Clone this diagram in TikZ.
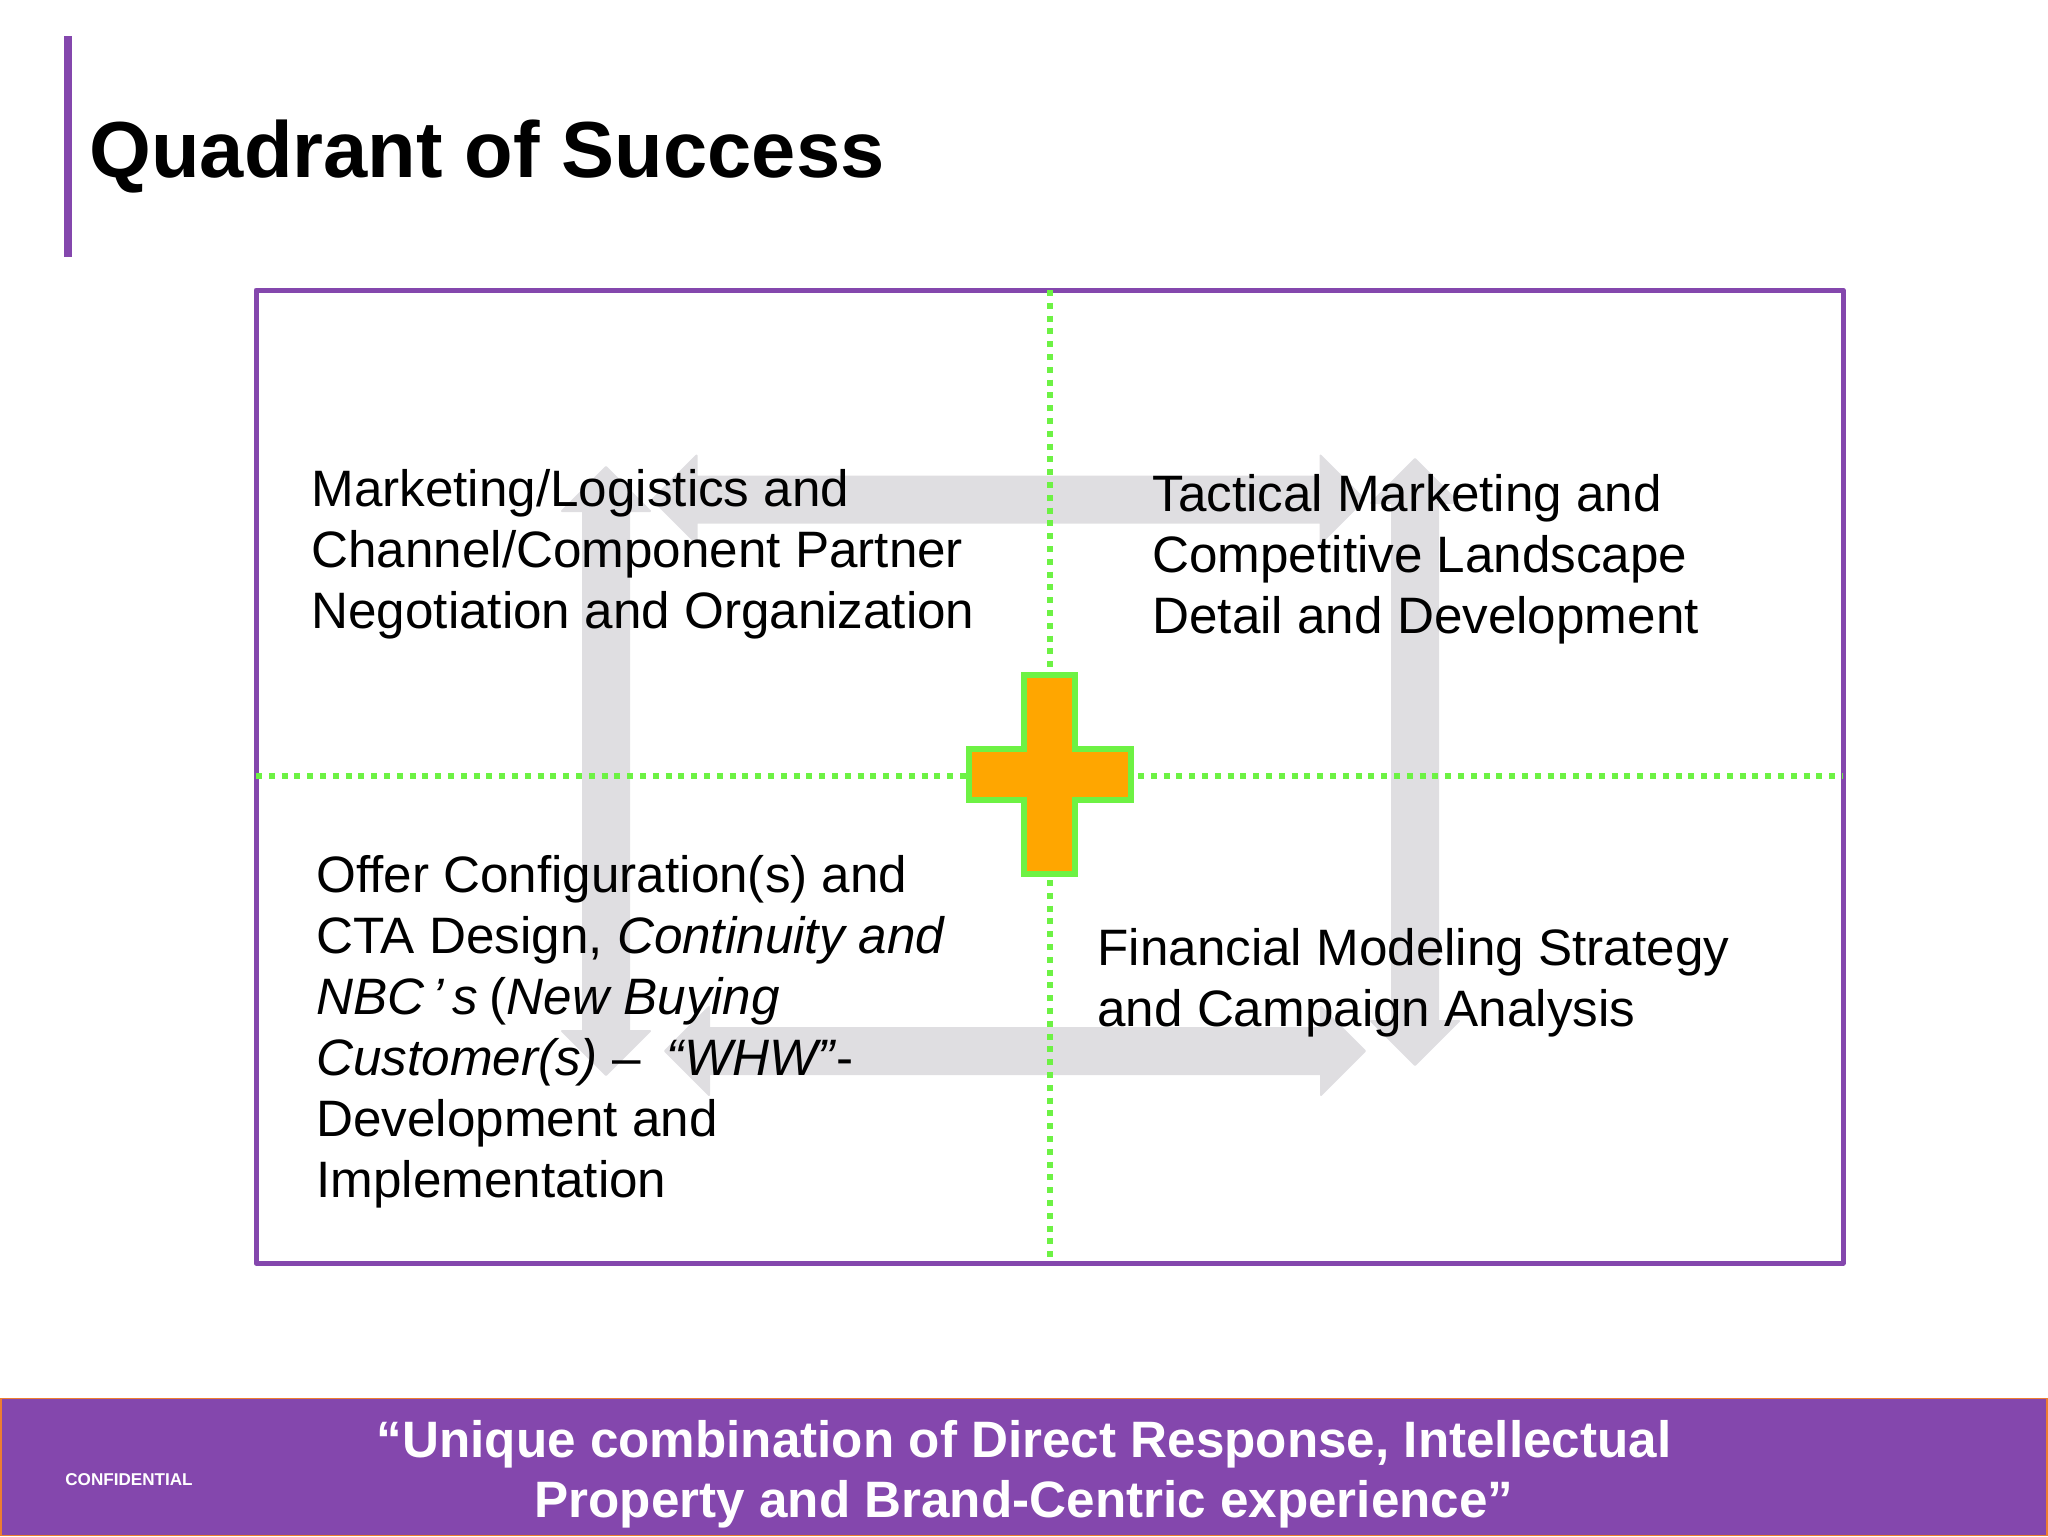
\documentclass[tikz,border=0pt]{standalone}
\usepackage{fontspec}
\setmainfont{Liberation Sans}
\usetikzlibrary{shapes.arrows}
\definecolor{quadpurple}{HTML}{8447AD}
\definecolor{quadgreen}{HTML}{6DF244}
\definecolor{quadorange}{HTML}{FFA600}
\definecolor{quadgray}{HTML}{DFDEE1}
\definecolor{quadedge}{HTML}{ED7D31}

\begin{document}
\begin{tikzpicture}[x=0.5pt,y=-0.5pt]
			\tikzstyle{blockarrow} = [double arrow, fill=quadgray, draw=quadgray, line width=1pt, line join=round, inner xsep=0pt, inner ysep=11pt, outer sep=0pt, minimum width=43pt, double arrow head extend=10.5pt]
			\tikzstyle{quadframe} = [draw=quadpurple, line width=2.5pt, line join=round, inner sep=0pt, outer sep=0pt, minimum width=793.5pt, minimum height=486.5pt]
			\tikzstyle{gridline} = [draw=quadgreen, line width=3pt, dash pattern=on 3pt off 3.4pt]
			\tikzstyle{plusmark} = [draw=quadgreen, fill=quadorange, line width=2.75pt, line join=miter]
			\tikzstyle{body} = [inner sep=0pt, align=left, anchor=base west, font=\fontsize{25.6}{30.5}\selectfont]
			\useasboundingbox (0,0) rectangle (2048,1536);
			
			\node[fill=quadpurple, inner sep=0pt, minimum width=4.25pt, minimum height=110.5pt](titlebar) at (68.2,146.5) {};
			\node[inner sep=0pt, anchor=base west, font=\fontsize{39.75}{48}\selectfont\bfseries](title) at (89,177) {Quadrant of Success};
			
			\node[blockarrow, minimum height=356pt](arrow1) at (1008.5,499.5) {};
			\node[blockarrow, minimum height=304pt, rotate=90](arrow2) at (606,771) {};
			\node[blockarrow, minimum height=303pt, rotate=90](arrow3) at (1415,762) {};
			\node[blockarrow, minimum height=350pt](arrow4) at (1015,1051) {};
			
			\node[quadframe](frame) at (1049.5,776.5) {};
			
			\coordinate(plustop) at (1049.5,670);
			\coordinate(plusbottom) at (1049.5,880);
			\coordinate(plusleft) at (966,776);
			\coordinate(plusright) at (1138,776);
			\draw[gridline](frame.north) to (plustop);
			\draw[gridline](plusbottom) to (frame.south);
			\draw[gridline](frame.west |- plusleft) to (plusleft);
			\draw[gridline](plusright) to (frame.east |- plusright);
			\draw[plusmark] (1024,675) -- (1075,675) -- (1075,749) -- (1131,749) -- (1131,800) -- (1075,800) -- (1075,874) -- (1024,874) -- (1024,800) -- (969,800) -- (969,749) -- (1024,749) -- cycle;
			
			\node[body](marketing) at (311,628) {Marketing/Logistics and\\Channel/Component Partner\\Negotiation and Organization};
			\node[body](tactical) at (1152,633) {Tactical Marketing and\\Competitive Landscape\\Detail and Development};
			\node[body](offer) at (316,1197) {Offer Configuration(s) and\\CTA Design, \textit{Continuity and}\\\textit{NBC\,’\,s}\kern-1.5pt{} (\textit{New Buying}\\\textit{Customer(s)} –\hspace{6pt} \textit{“WHW”}-\\Development and\\Implementation};
			\node[body](financial) at (1097,1026) {Financial Modeling Strategy\\and Campaign Analysis};
			
			\node[fill=quadpurple, draw=quadedge, line width=0.75pt, inner sep=0pt, outer sep=0pt, minimum width=1023pt, minimum height=68.5pt](footer) at (1024,1467) {};
			\node[inner sep=0pt, anchor=base west, text=white, font=\fontsize{8.55}{10}\selectfont\bfseries](confidential) at (65,1485) {CONFIDENTIAL};
			\node[inner sep=0pt, anchor=base, align=center, text=white, font=\fontsize{25.6}{30}\selectfont\bfseries](quote) at (1024,1517) {“Unique combination of Direct Response, Intellectual\\Property and Brand-Centric experience”};
			\end{tikzpicture}
\end{document}
